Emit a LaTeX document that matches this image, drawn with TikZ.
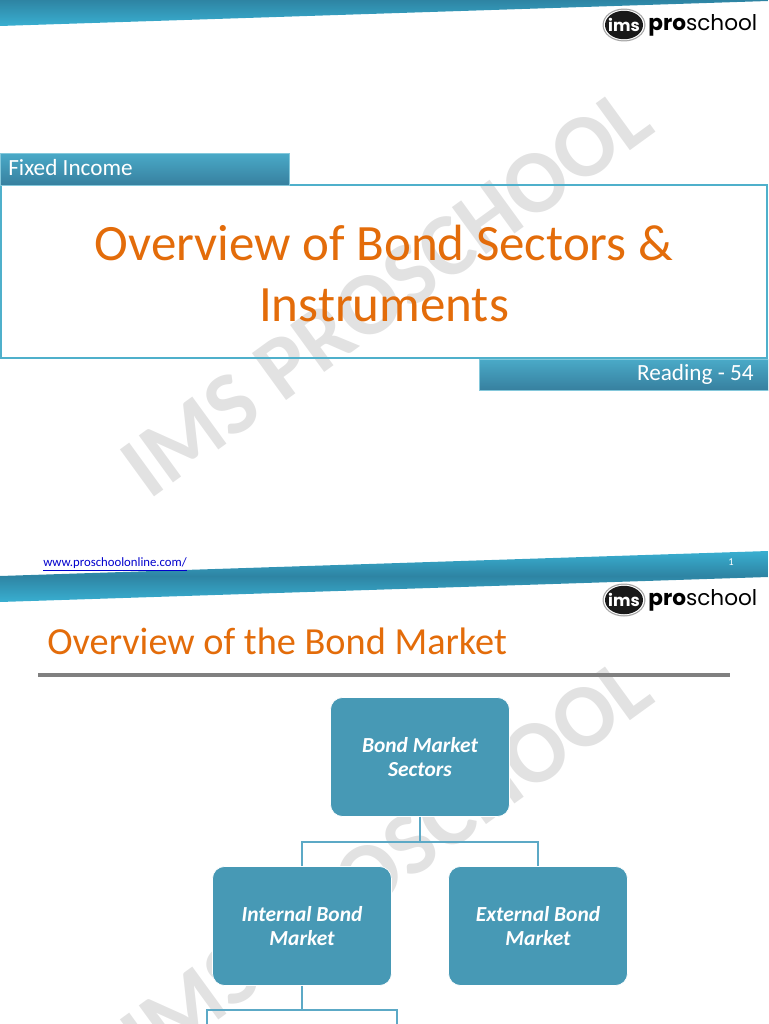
\documentclass[tikz,border=0pt]{standalone}
\usepackage{fontspec}
\setmainfont{Carlito}
\newfontfamily\logofont{Poppins}
\usetikzlibrary{shadings}
\definecolor{bandDark}{HTML}{2E84A3}
\definecolor{bandLight}{HTML}{39AFD1}
\definecolor{tabDark}{HTML}{37809F}
\definecolor{tabLight}{HTML}{4AAAC8}
\definecolor{frameBlue}{HTML}{4FB0CB}
\definecolor{boxBlue}{HTML}{4799B5}
\definecolor{lineBlue}{HTML}{5CA9C6}
\definecolor{titleOrange}{HTML}{E36C0A}
\definecolor{markGray}{HTML}{E2E2E2}
\tikzset{
  watermark/.style={text=markGray, rotate=36, inner sep=0pt, font=\fontsize{51}{51}\selectfont\bfseries},
  tabtext/.style={text=white, inner sep=0pt, font=\fontsize{13.2}{15}\selectfont},
  bigtitle/.style={text=titleOrange, inner sep=0pt, font=\fontsize{29}{34}\selectfont},
  sectorbox/.style={draw=white, fill=boxBlue, rounded corners=0.24cm, minimum width=3.58cm, minimum height=2.38cm,
    align=center, text=white, inner sep=0pt, font=\fontsize{12.2}{14}\selectfont\bfseries\itshape},
  branch/.style={draw=lineBlue, line width=1.1pt},
  logo/.pic={
    \fill[gray!70] (0,0) ellipse (0.43cm and 0.33cm);
    \fill[white] (0,0) ellipse (0.405cm and 0.305cm);
    \fill[black!90] (0,0) ellipse (0.38cm and 0.285cm);
    \node[text=white, inner sep=0pt, font=\fontsize{9.4}{10}\logofont\bfseries] (-logoims) at (0,0) {ims};
    \node[anchor=west, inner sep=0pt, font=\fontsize{12.3}{13}\logofont] (-logoname) at (24,0) {\textbf{pro}school};
  }
}

\begin{document}
\begin{tikzpicture}[x=0.02cm, y=-0.02cm]
  \useasboundingbox (0,0) rectangle (768,1024);

  \begin{scope}
    \clip (0,0) rectangle (768,1024);

    % ====== WATERMARKS ======
    \node[watermark] (markone) at (386,292) {IMS PROSCHOOL};
    \node[watermark] (marktwo) at (386,862) {IMS PROSCHOOL};

    % ====== COVER SLIDE ======
    % Header band
    \shade[top color=bandDark, bottom color=bandLight]
      (0,0) -- (768,0) -- (768,1) -- (0,26) -- cycle;
    \pic (logoone) at (624,25) {logo};

    % Frame and tabs
    \draw[frameBlue, line width=1.6pt] (1,185) rectangle (767,358);
    \shade[top color=tabLight, bottom color=tabDark, draw=frameBlue!70, line width=0.4pt]
      (0,153) rectangle (289,185);
    \shade[top color=tabLight, bottom color=tabDark, draw=frameBlue!70, line width=0.4pt]
      (479,359) rectangle (768,390);
    \node[tabtext, anchor=west] (fixedincome) at (8,168) {Fixed Income};
    \node[tabtext, anchor=east] (reading) at (754,374) {Reading - 54};

    % Title
    \node[bigtitle] (covertitle) at (384,243) {Overview of Bond Sectors \&};
    \node[bigtitle] (covertitleb) at (384,305) {Instruments};

    % Footer band
    \shade[top color=bandLight, bottom color=bandDark]
      (0,576) -- (768,551) -- (768,576) -- cycle;
    \node[anchor=base west, inner sep=0pt, text=blue!80!black, font=\fontsize{7.25}{8}\selectfont] (weblink) at (43,566)
      {\underline{www.proschoolonline.com/}};
    \node[inner sep=0pt, text=white, font=\fontsize{6}{7}\selectfont] (pagenum) at (731,562) {1};

    % ====== MARKET SLIDE ======
    % Header band
    \shade[top color=bandDark, bottom color=bandLight]
      (0,576) -- (768,576) -- (768,577) -- (0,602) -- cycle;
    \pic (logotwo) at (624,600) {logo};

    % Title and rule
    \node[anchor=west, inner sep=0pt, text=titleOrange, font=\fontsize{21.8}{26}\selectfont] (markettitle) at (47,641)
      {Overview of the Bond Market};
    \draw[gray, line width=2pt] (38,675) -- (730,675);

    % Boxes
    \coordinate (forktop) at (420,842);
    \coordinate (forkbottom) at (302,1010);
    \coordinate (leafleft) at (207,1030);
    \coordinate (leafright) at (397,1030);
    \node[sectorbox] (sectors) at (420,757) {Bond Market\\Sectors};
    \node[sectorbox] (internal) at (302,926) {Internal Bond\\Market};
    \node[sectorbox] (external) at (538,926) {External Bond\\Market};

    % Connectors
    \draw[branch] (sectors.south) -- (forktop);
    \draw[branch] (internal.north) |- (forktop) -| (external.north);
    \draw[branch] (internal.south) -- (forkbottom);
    \draw[branch] (leafleft) |- (forkbottom) -| (leafright);
  \end{scope}

\end{tikzpicture}
\end{document}
